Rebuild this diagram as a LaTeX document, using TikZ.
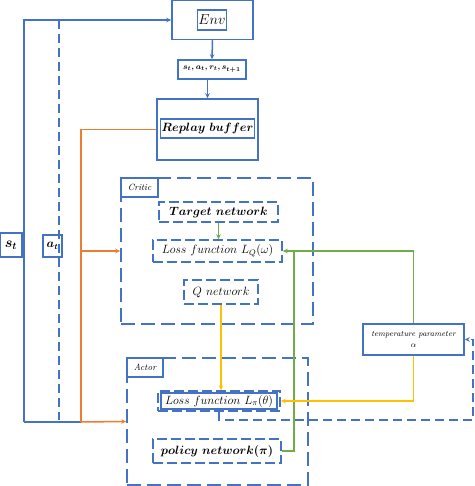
\documentclass[tikz,border=0pt]{standalone}
\usepackage{amsmath}
\usetikzlibrary{arrows.meta,positioning}
\definecolor{lineblue}{RGB}{68,114,196}
\definecolor{lineorange}{RGB}{237,125,49}
\definecolor{linegreen}{RGB}{112,173,71}
\definecolor{lineyellow}{RGB}{255,192,0}

\begin{document}
\begin{tikzpicture}[x=1pt,y=-1pt,
  box/.style={draw=lineblue,line width=1.5pt,inner sep=1pt},
  dbox/.style={box,dash pattern=on 10pt off 4pt},
  cbox/.style={box,dash pattern=on 14pt off 6pt},
  arr/.style={-{Stealth[length=5pt,width=4.5pt]}},
  bline/.style={draw=lineblue,line width=1.5pt},
  oline/.style={draw=lineorange,line width=1.5pt},
  gline/.style={draw=linegreen,line width=1.5pt},
  yline/.style={draw=lineyellow,line width=1.5pt}]
  \useasboundingbox (0,0) rectangle (474,486);

  \node[box,minimum width=81,minimum height=39] (envbox) at (212.5,20) {};
  \node[box,minimum width=26,minimum height=20,font=\Large] (env) at (212,20) {$Env$};
  \node[box,minimum width=68,minimum height=19,font=\footnotesize] (trans) at (212,69.5) {$\boldsymbol{s_t,a_t,r_t,s_{t+1}}$};
  \node[box,minimum width=101,minimum height=61] (replaybox) at (207.5,129.5) {};
  \node[box,minimum width=85,minimum height=19,font=\large] (replay) at (207.5,128.5) {$\boldsymbol{Replay\ buffer}$};

  \node[cbox,minimum width=192,minimum height=146] (critic) at (217,251) {};
  \node[box,anchor=north west,minimum width=37,minimum height=19,font=\small\itshape] (criticlbl) at (critic.north west) {Critic};
  \node[dbox,minimum width=119,minimum height=20,font=\fontsize{13}{15}\selectfont] (target) at (218.5,212) {$\boldsymbol{Target\ network}$};
  \node[dbox,minimum width=129,minimum height=22,font=\large] (lossq) at (217.5,251) {$Loss\ function\ L_Q(\omega)$};
  \node[dbox,minimum width=74,minimum height=24,font=\fontsize{13}{15}\selectfont] (qnet) at (221,292) {$Q\ network$};

  \node[cbox,minimum width=181,minimum height=127] (actor) at (217.5,421.5) {};
  \node[box,anchor=north west,minimum width=36,minimum height=19,font=\small\itshape] (actorlbl) at (actor.north west) {Actor};
  \node[box,minimum width=116,minimum height=16,font=\large] (lpi) at (219,401) {$Loss\ function\ L_\pi(\theta)$};
  \node[dbox,minimum width=122,minimum height=20] (lpiframe) at (lpi) {};
  \node[dbox,minimum width=128,minimum height=24,font=\fontsize{13}{15}\selectfont] (policy) at (217,451) {$\boldsymbol{policy\ network(\pi)}$};

  \node[box,minimum width=101,minimum height=31,align=center,font=\footnotesize\itshape] (temp) at (413.5,339.5) {temperature parameter\\[1pt]$\alpha$};

  \node[box,minimum width=22,minimum height=24,font=\Large] (st) at (11,245) {$\boldsymbol{s_t}$};
  \node[box,minimum width=19,minimum height=22,font=\large] (at) at (52.5,246) {$\boldsymbol{a_t}$};

  \coordinate (stbot) at (24,422);
  \coordinate (obot) at (81,422);
  \coordinate (attop) at (59,20);
  \coordinate (atbot) at (59,420);
  \coordinate (gjoin) at (294,251);
  \coordinate (dcorner) at (473,420);

  \draw[bline,arr] (envbox.south) -- (trans.north);
  \draw[bline,arr] (trans.south -| replaybox.north) -- (replaybox.north);
  \draw[bline,arr] (stbot) |- (envbox.west);
  \draw[bline] (stbot) -- (obot);
  \draw[bline,dash pattern=on 9pt off 5pt] (attop) -- (atbot);

  \draw[oline] (replaybox.west) -| (obot);
  \draw[oline,arr] (obot |- critic.west) -- (critic.west);
  \draw[oline,arr] (obot) -- (actor.west);

  \draw[gline,arr] (target.south) -- (target.south |- lossq.north);
  \draw[gline] (policy.east) -| (gjoin);
  \draw[gline,arr] (temp.north) |- (lossq.east);

  \draw[yline,arr] (qnet.south) -- (qnet.south |- lpiframe.north);
  \draw[yline,arr] (temp.south) |- (lpiframe.east);

  \draw[bline,arr,dash pattern=on 9pt off 5pt] (lpiframe.south) |- (dcorner) |- (temp.east);
\end{tikzpicture}
\end{document}
